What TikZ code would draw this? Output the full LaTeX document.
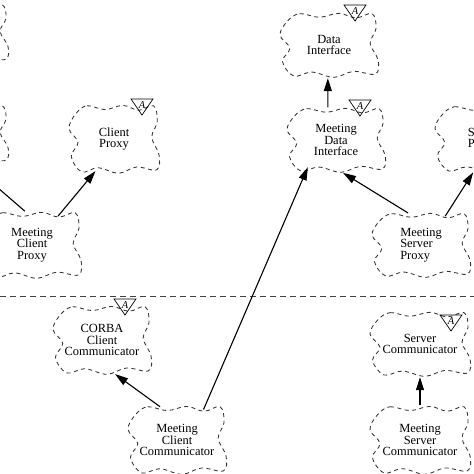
\documentclass[tikz,border=0pt]{standalone}
\usepackage{fontspec}
\setmainfont{Liberation Serif}
\usetikzlibrary{shapes.geometric,arrows.meta}
\newcommand{\bcloud}[3]{%
  \begin{scope}[shift={(#1.center)}, xscale=#2, yscale=#3]
    \draw[cloudline] plot[smooth cycle, tension=0.6] coordinates {
      (-0.85,-0.72) (-0.6,-0.95) (-0.2,-0.84) (0.2,-0.96) (0.55,-0.82) (0.88,-0.95)
      (0.96,-0.5) (0.84,-0.05) (1.0,0.45) (0.95,0.88) (0.5,0.8) (0.1,0.98)
      (-0.35,0.82) (-0.72,0.94) (-0.95,0.5) (-0.8,0.1) (-1.0,-0.3)};
  \end{scope}}
\begin{document}
\begin{tikzpicture}[x=1bp,y=-1bp,
  cloudnode/.style={ellipse, inner sep=0pt, align=center, font=\fontsize{12.5}{11.5}\selectfont},
  cloudline/.style={draw=black!80, line width=0.85bp, dash pattern=on 4bp off 3.5bp},
  arr/.style={line width=1.1bp, -{Triangle[length=13bp,width=8bp]}},
  sepline/.style={draw=black!75, line width=0.9bp, dash pattern=on 6bp off 4bp},
  adorn/.pic={\draw[line width=0.7bp] (-11,-8) -- (11,-8) -- (0,8) -- cycle;
              \node[inner sep=0pt, font=\fontsize{10.5}{10}\selectfont\itshape] (-a) at (0,-1.5) {A};}
]
\clip (0,0) rectangle (474,474);

% nodes
\node[cloudnode, minimum width=98bp, minimum height=60bp] (tl) at (-41,33) {};
\node[cloudnode, minimum width=98bp, minimum height=60bp] (lp) at (-41,134) {};
\node[cloudnode, minimum width=90bp, minimum height=70bp] (cp) at (114,139) {Client\\Proxy};
\node[cloudnode, minimum width=98bp, minimum height=68bp] (mcp) at (32,245) {Meeting\\Client\\Proxy};
\node[cloudnode, minimum width=98bp, minimum height=66bp] (di) at (329,45) {Data\\Interface};
\node[cloudnode, minimum width=98bp, minimum height=66bp] (mdi) at (336,140) {Meeting\\Data\\Interface};
\node[cloudnode, align=left, minimum width=98bp, minimum height=68bp] (sp) at (484,139) {Server\\Proxy};
\node[cloudnode, align=left, minimum width=98bp, minimum height=66bp] (msp) at (421,245) {Meeting\\Server\\Proxy};
\node[cloudnode, minimum width=98bp, minimum height=70bp] (corba) at (102,340) {CORBA\\Client\\Communicator};
\node[cloudnode, minimum width=98bp, minimum height=70bp] (mcc) at (177,440) {Meeting\\Client\\Communicator};
\node[cloudnode, minimum width=100bp, minimum height=66bp] (sc) at (420,344) {Server\\Communicator};
\node[cloudnode, minimum width=100bp, minimum height=70bp] (msc) at (420,440) {Meeting\\Server\\Communicator};

% cloud outlines
\bcloud{tl}{49}{30}
\bcloud{lp}{49}{30}
\bcloud{cp}{45}{35}
\bcloud{mcp}{49}{34}
\bcloud{di}{49}{33}
\bcloud{mdi}{49}{33}
\bcloud{sp}{49}{34}
\bcloud{msp}{49}{33}
\bcloud{corba}{49}{35}
\bcloud{mcc}{49}{35}
\bcloud{sc}{50}{33}
\bcloud{msc}{50}{35}

% adornments
\pic (cpA) at (142,107) {adorn};
\pic (diA) at (355,13) {adorn};
\pic (mdiA) at (360,108) {adorn};
\pic (corbaA) at (125,307) {adorn};
\pic (scA) at (451,323) {adorn};

% separator
\coordinate (sepL) at (0,296);
\coordinate (sepR) at (474,296);
\draw[sepline] (sepL) -- (sepR);

% connectors
\draw[arr] (mcp.48) -- (cp.240);
\draw[arr] (mcp.102) -- (lp.-70);
\draw[arr] (mdi.104) -- (di.268);
\draw[arr] (mcc.49) -- (mdi.224);
\draw[arr] (msp.112) -- (mdi.282);
\draw[arr] (msp.50) -- (sp.252);
\draw[arr] (mcc.117) -- (corba.291);
\draw[arr] (msc.north) -- (sc.south);
\end{tikzpicture}
\end{document}
